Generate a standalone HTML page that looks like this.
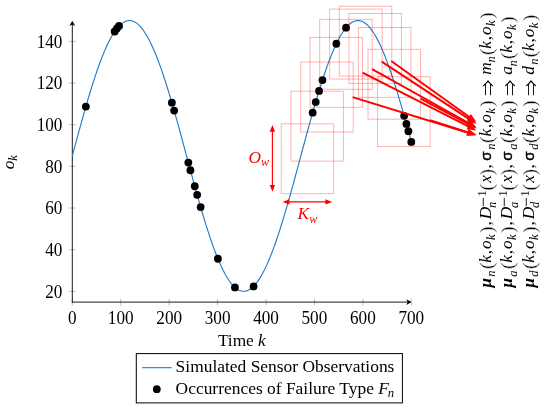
<!DOCTYPE html><html><head><meta charset="utf-8"><title>Simulated Sensor Observations</title>
<style>html,body{margin:0;padding:0;background:#fff;}svg{display:block}text{font-family:"Liberation Serif","DejaVu Serif",serif;fill:#000}.i{font-style:italic}.g{font-family:"Liberation Sans","DejaVu Sans",sans-serif;stroke:#000;stroke-width:0.45px}.gi{font-weight:bold;font-style:italic}.p{stroke:#fff;stroke-width:0.3px}.ar{font-family:"Noto Sans CJK SC","Noto Sans CJK JP","DejaVu Sans",sans-serif}</style></head><body>
<svg width="550" height="409" viewBox="0 0 550 409">
<rect width="550" height="409" fill="#fff"/>
<g stroke="#8c8c8c" stroke-width="0.55">
<line x1="72.30" y1="298.6" x2="72.30" y2="305.7"/>
<line x1="120.73" y1="298.6" x2="120.73" y2="305.7"/>
<line x1="169.16" y1="298.6" x2="169.16" y2="305.7"/>
<line x1="217.59" y1="298.6" x2="217.59" y2="305.7"/>
<line x1="266.02" y1="298.6" x2="266.02" y2="305.7"/>
<line x1="314.45" y1="298.6" x2="314.45" y2="305.7"/>
<line x1="362.88" y1="298.6" x2="362.88" y2="305.7"/>
<line x1="411.31" y1="298.6" x2="411.31" y2="305.7"/>
<line x1="68.7" y1="291.35" x2="75.9" y2="291.35"/>
<line x1="68.7" y1="249.68" x2="75.9" y2="249.68"/>
<line x1="68.7" y1="208.02" x2="75.9" y2="208.02"/>
<line x1="68.7" y1="166.35" x2="75.9" y2="166.35"/>
<line x1="68.7" y1="124.69" x2="75.9" y2="124.69"/>
<line x1="68.7" y1="83.02" x2="75.9" y2="83.02"/>
<line x1="68.7" y1="41.35" x2="75.9" y2="41.35"/>
</g>
<g stroke="#000" stroke-width="0.9" fill="none">
<line x1="72.3" y1="302.5" x2="72.3" y2="24"/>
<line x1="71.9" y1="302.1" x2="408" y2="302.1"/>
</g>
<path d="M72.3 20.7 L75.2 26 L72.3 24.6 L69.4 26 Z" fill="#000"/>
<path d="M411.6 302.1 L406.3 299.2 L407.7 302.1 L406.3 305 Z" fill="#000"/>
<polyline points="72.30,155.94 74.24,148.73 76.17,141.54 78.11,134.39 80.05,127.30 81.99,120.30 83.92,113.39 85.86,106.61 87.80,99.97 89.73,93.48 91.67,87.17 93.61,81.06 95.55,75.16 97.48,69.49 99.42,64.06 101.36,58.90 103.30,54.01 105.23,49.40 107.17,45.10 109.11,41.12 111.04,37.46 112.98,34.14 114.92,31.16 116.86,28.54 118.79,26.27 120.73,24.38 122.67,22.86 124.60,21.71 126.54,20.95 128.48,20.57 130.42,20.57 132.35,20.96 134.29,21.73 136.23,22.88 138.16,24.41 140.10,26.31 142.04,28.58 143.98,31.21 145.91,34.19 147.85,37.52 149.79,41.18 151.73,45.17 153.66,49.48 155.60,54.08 157.54,58.98 159.47,64.15 161.41,69.58 163.35,75.26 165.29,81.16 167.22,87.28 169.16,93.59 171.10,100.07 173.03,106.72 174.97,113.51 176.91,120.41 178.85,127.42 180.78,134.51 182.72,141.66 184.66,148.85 186.59,156.06 188.53,163.26 190.47,170.45 192.41,177.60 194.34,184.68 196.28,191.69 198.22,198.59 200.16,205.37 202.09,212.01 204.03,218.50 205.97,224.80 207.90,230.91 209.84,236.81 211.78,242.48 213.72,247.90 215.65,253.06 217.59,257.94 219.53,262.54 221.46,266.84 223.40,270.81 225.34,274.47 227.28,277.79 229.21,280.76 231.15,283.38 233.09,285.63 235.02,287.52 236.96,289.04 238.90,290.18 240.84,290.93 242.77,291.31 244.71,291.30 246.65,290.90 248.59,290.13 250.52,288.97 252.46,287.44 254.40,285.53 256.33,283.25 258.27,280.62 260.21,277.63 262.15,274.29 264.08,270.62 266.02,266.63 267.96,262.32 269.89,257.71 271.83,252.81 273.77,247.63 275.71,242.20 277.64,236.52 279.58,230.61 281.52,224.49 283.45,218.18 285.39,211.69 287.33,205.04 289.27,198.25 291.20,191.34 293.14,184.33 295.08,177.24 297.02,170.10 298.95,162.91 300.89,155.70 302.83,148.49 304.76,141.30 306.70,134.15 308.64,127.07 310.58,120.07 312.51,113.17 314.45,106.39 316.39,99.75 318.32,93.27 320.26,86.97 322.20,80.86 324.14,74.97 326.07,69.30 328.01,63.89 329.95,58.73 331.88,53.85 333.82,49.26 335.76,44.97 337.70,40.99 339.63,37.34 341.57,34.03 343.51,31.07 345.45,28.45 347.38,26.20 349.32,24.32 351.26,22.81 353.19,21.68 355.13,20.93 357.07,20.56 359.01,20.58 360.94,20.98 362.88,21.76 364.82,22.92 366.75,24.46 368.69,26.38 370.63,28.66 372.57,31.30 374.50,34.29 376.44,37.63 378.38,41.31 380.31,45.31 382.25,49.63 384.19,54.24 386.13,59.15 388.06,64.33 390.00,69.76 391.94,75.45 393.88,81.36 395.81,87.48 397.75,93.80 399.69,100.29 401.62,106.94 403.56,113.73 405.50,120.64 407.44,127.65 409.37,134.74 411.31,141.89" fill="none" stroke="#1f77c4" stroke-width="1.1"/>
<g fill="#000">
<circle cx="85.86" cy="106.61" r="3.9"/>
<circle cx="114.68" cy="31.51" r="3.9"/>
<circle cx="116.86" cy="28.54" r="3.9"/>
<circle cx="119.03" cy="26.02" r="3.9"/>
<circle cx="171.87" cy="102.72" r="3.9"/>
<circle cx="174.15" cy="110.61" r="3.9"/>
<circle cx="188.34" cy="162.54" r="3.9"/>
<circle cx="190.42" cy="170.27" r="3.9"/>
<circle cx="194.78" cy="186.27" r="3.9"/>
<circle cx="197.15" cy="194.81" r="3.9"/>
<circle cx="200.64" cy="207.05" r="3.9"/>
<circle cx="217.93" cy="258.77" r="3.9"/>
<circle cx="234.93" cy="287.44" r="3.9"/>
<circle cx="253.57" cy="286.38" r="3.9"/>
<circle cx="312.66" cy="112.65" r="3.9"/>
<circle cx="315.71" cy="102.05" r="3.9"/>
<circle cx="319.05" cy="90.88" r="3.9"/>
<circle cx="322.44" cy="80.11" r="3.9"/>
<circle cx="336.34" cy="43.74" r="3.9"/>
<circle cx="346.07" cy="27.68" r="3.9"/>
<circle cx="404.14" cy="115.80" r="3.9"/>
<circle cx="406.42" cy="123.96" r="3.9"/>
<circle cx="408.40" cy="131.19" r="3.9"/>
<circle cx="411.31" cy="141.89" r="3.9"/>
</g>
<g fill="none" stroke="#ff0000" stroke-opacity="0.3" stroke-width="1">
<rect x="281.2" y="123.8" width="52.5" height="69.9"/>
<rect x="290.9" y="91.2" width="52.5" height="69.9"/>
<rect x="300.7" y="62.1" width="52.5" height="69.9"/>
<rect x="310.0" y="37.4" width="52.5" height="69.9"/>
<rect x="319.7" y="19.4" width="52.5" height="69.9"/>
<rect x="329.6" y="9.1" width="52.5" height="69.9"/>
<rect x="339.3" y="6.2" width="52.5" height="69.9"/>
<rect x="348.9" y="13.5" width="52.5" height="69.9"/>
<rect x="358.4" y="27.5" width="52.5" height="69.9"/>
<rect x="368.0" y="49.3" width="52.5" height="69.9"/>
<rect x="377.6" y="76.7" width="52.5" height="69.9"/>
</g>
<g stroke="#ff0000" stroke-width="2.0" fill="#ff0000"><line x1="391.2" y1="61.0" x2="470.8" y2="118.0"/><path stroke="none" d="M476.5 122.1 L466.9 119.4 L470.8 113.9 Z"/><line x1="381.7" y1="61.6" x2="470.7" y2="120.1"/><path stroke="none" d="M476.5 123.9 L466.8 121.6 L470.5 115.9 Z"/><line x1="372.1" y1="69.2" x2="470.4" y2="124.0"/><path stroke="none" d="M476.5 127.4 L466.6 125.8 L469.9 119.9 Z"/><line x1="362.5" y1="72.6" x2="470.3" y2="127.3"/><path stroke="none" d="M476.5 130.5 L466.6 129.3 L469.7 123.2 Z"/><line x1="352.6" y1="97.1" x2="469.8" y2="133.2"/><path stroke="none" d="M476.5 135.3 L466.5 135.8 L468.5 129.3 Z"/><line x1="420.5" y1="98.7" x2="470.3" y2="125.0"/><path stroke="none" d="M476.5 128.3 L466.6 126.9 L469.8 120.9 Z"/><line x1="430.1" y1="120.3" x2="469.8" y2="133.0"/><path stroke="none" d="M476.5 135.1 L466.5 135.5 L468.6 129.0 Z"/></g>
<line x1="272.4" y1="129.9" x2="272.4" y2="186.7" stroke="#ff0000" stroke-width="1.15"/><path fill="#ff0000" d="M272.4 124.9 L269.7 131.7 L275.1 131.7 Z"/><path fill="#ff0000" d="M272.4 191.7 L269.7 184.9 L275.1 184.9 Z"/>
<line x1="287.6" y1="201.9" x2="327.2" y2="201.9" stroke="#ff0000" stroke-width="1.15"/><path fill="#ff0000" d="M282.6 201.9 L289.4 204.6 L289.4 199.2 Z"/><path fill="#ff0000" d="M332.2 201.9 L325.4 204.6 L325.4 199.2 Z"/>
<text transform="translate(248.6,162.9) scale(1,1)" font-size="17.3" class="i" style="fill:#ff0000">O<tspan font-size="12" dy="3.5">w</tspan></text>
<text transform="translate(297.6,219.2) scale(1,1)" font-size="17.3" class="i" style="fill:#ff0000">K<tspan font-size="12" dy="3.5">w</tspan></text>
<text transform="translate(72.3,323.8) scale(0.965,1)" font-size="17.8" text-anchor="middle">0</text>
<text transform="translate(120.7,323.8) scale(0.965,1)" font-size="17.8" text-anchor="middle">100</text>
<text transform="translate(169.2,323.8) scale(0.965,1)" font-size="17.8" text-anchor="middle">200</text>
<text transform="translate(217.6,323.8) scale(0.965,1)" font-size="17.8" text-anchor="middle">300</text>
<text transform="translate(266.0,323.8) scale(0.965,1)" font-size="17.8" text-anchor="middle">400</text>
<text transform="translate(314.4,323.8) scale(0.965,1)" font-size="17.8" text-anchor="middle">500</text>
<text transform="translate(362.9,323.8) scale(0.965,1)" font-size="17.8" text-anchor="middle">600</text>
<text transform="translate(411.3,323.8) scale(0.965,1)" font-size="17.8" text-anchor="middle">700</text>
<text transform="translate(62.4,297.5) scale(0.965,1)" font-size="17.8" text-anchor="end">20</text>
<text transform="translate(62.4,255.8) scale(0.965,1)" font-size="17.8" text-anchor="end">40</text>
<text transform="translate(62.4,214.1) scale(0.965,1)" font-size="17.8" text-anchor="end">60</text>
<text transform="translate(62.4,172.5) scale(0.965,1)" font-size="17.8" text-anchor="end">80</text>
<text transform="translate(62.4,130.8) scale(0.965,1)" font-size="17.8" text-anchor="end">100</text>
<text transform="translate(62.4,89.1) scale(0.965,1)" font-size="17.8" text-anchor="end">120</text>
<text transform="translate(62.4,47.5) scale(0.965,1)" font-size="17.8" text-anchor="end">140</text>
<text transform="translate(241.8,346.1) scale(1,1)" font-size="17.3" text-anchor="middle">Time <tspan class="i">k</tspan></text>
<text transform="translate(13.6,162.2) rotate(-90)" font-size="17.3" text-anchor="middle" class="i">o<tspan font-size="12.6" dy="3.8">k</tspan></text>
<rect x="136.3" y="353.6" width="266.1" height="49.3" fill="#fff" stroke="#000" stroke-width="1"/>
<line x1="142.2" y1="367.7" x2="171.6" y2="367.7" stroke="#1f77c4" stroke-width="1.1"/>
<circle cx="156.8" cy="389.2" r="3.9" fill="#000"/>
<text transform="translate(175.6,372.3) scale(1.008,1)" font-size="17.3">Simulated Sensor Observations</text>
<text transform="translate(175.6,394.0) scale(1.008,1)" font-size="17.3">Occurrences of Failure Type <tspan class="i">F</tspan><tspan class="i" font-size="12.6" dy="3.4" dx="-1.2">n</tspan></text>
<text transform="translate(490.7,288.0) rotate(-90)" font-size="17.3"><tspan x="0.6" y="0.0" font-size="17" class="gi">μ</tspan><tspan x="11.3" y="4.4" font-size="12.6" class="i">n</tspan><tspan x="19.0" y="1.9" font-size="19.8" class="p">(</tspan><tspan x="25.3" y="0.0" font-size="17.3" class="i">k</tspan><tspan x="33.8" y="0.0" font-size="17.3">,</tspan><tspan x="39.1" y="0.0" font-size="17.3" class="i">o</tspan><tspan x="48.1" y="4.2" font-size="12.6" class="i">k</tspan><tspan x="55.0" y="1.9" font-size="19.8" class="p">)</tspan><tspan x="62.4" y="0.0" font-size="17.3">,</tspan><tspan x="68.7" y="0.0" font-size="17.3" class="i">D</tspan><tspan x="80.8" y="-2.2" font-size="18">−</tspan><tspan x="91.6" y="-5.2" font-size="12.6">1</tspan><tspan x="80.0" y="5.6" font-size="12.6" class="i">n</tspan><tspan x="97.5" y="1.9" font-size="19.8" class="p">(</tspan><tspan x="105.3" y="0.0" font-size="17.3" class="i">x</tspan><tspan x="112.4" y="1.9" font-size="19.8" class="p">)</tspan><tspan x="119.5" y="0.0" font-size="17.3">,</tspan><tspan x="127.3" y="0.0" font-size="15" class="g">σ</tspan><tspan x="138.2" y="4.4" font-size="12.6" class="i">n</tspan><tspan x="145.1" y="1.9" font-size="19.8" class="p">(</tspan><tspan x="151.4" y="0.0" font-size="17.3" class="i">k</tspan><tspan x="159.9" y="0.0" font-size="17.3">,</tspan><tspan x="165.2" y="0.0" font-size="17.3" class="i">o</tspan><tspan x="174.2" y="4.2" font-size="12.6" class="i">k</tspan><tspan x="181.1" y="1.9" font-size="19.8" class="p">)</tspan><tspan x="213.2" y="0.0" font-size="17.3" class="i">m</tspan><tspan x="225.5" y="4.4" font-size="12.6" class="i">n</tspan><tspan x="232.9" y="1.9" font-size="19.8" class="p">(</tspan><tspan x="239.2" y="0.0" font-size="17.3" class="i">k</tspan><tspan x="247.7" y="0.0" font-size="17.3">,</tspan><tspan x="253.0" y="0.0" font-size="17.3" class="i">o</tspan><tspan x="262.0" y="4.2" font-size="12.6" class="i">k</tspan><tspan x="268.9" y="1.9" font-size="19.8" class="p">)</tspan></text><text transform="translate(490.7,288.0) rotate(-90) translate(191.9,2.3) scale(1.226,1)" font-size="13.3" class="ar">⇒</text>
<text transform="translate(512.2,288.0) rotate(-90)" font-size="17.3"><tspan x="0.6" y="0.0" font-size="17" class="gi">μ</tspan><tspan x="11.3" y="4.4" font-size="12.6" class="i">a</tspan><tspan x="19.0" y="1.9" font-size="19.8" class="p">(</tspan><tspan x="25.3" y="0.0" font-size="17.3" class="i">k</tspan><tspan x="33.8" y="0.0" font-size="17.3">,</tspan><tspan x="39.1" y="0.0" font-size="17.3" class="i">o</tspan><tspan x="48.1" y="4.2" font-size="12.6" class="i">k</tspan><tspan x="55.0" y="1.9" font-size="19.8" class="p">)</tspan><tspan x="62.4" y="0.0" font-size="17.3">,</tspan><tspan x="68.7" y="0.0" font-size="17.3" class="i">D</tspan><tspan x="80.8" y="-2.2" font-size="18">−</tspan><tspan x="91.6" y="-5.2" font-size="12.6">1</tspan><tspan x="80.0" y="5.6" font-size="12.6" class="i">a</tspan><tspan x="97.5" y="1.9" font-size="19.8" class="p">(</tspan><tspan x="105.3" y="0.0" font-size="17.3" class="i">x</tspan><tspan x="112.4" y="1.9" font-size="19.8" class="p">)</tspan><tspan x="119.5" y="0.0" font-size="17.3">,</tspan><tspan x="127.3" y="0.0" font-size="15" class="g">σ</tspan><tspan x="138.2" y="4.4" font-size="12.6" class="i">a</tspan><tspan x="145.1" y="1.9" font-size="19.8" class="p">(</tspan><tspan x="151.4" y="0.0" font-size="17.3" class="i">k</tspan><tspan x="159.9" y="0.0" font-size="17.3">,</tspan><tspan x="165.2" y="0.0" font-size="17.3" class="i">o</tspan><tspan x="174.2" y="4.2" font-size="12.6" class="i">k</tspan><tspan x="181.1" y="1.9" font-size="19.8" class="p">)</tspan><tspan x="213.2" y="0.0" font-size="17.3" class="i">a</tspan><tspan x="221.5" y="4.4" font-size="12.6" class="i">n</tspan><tspan x="228.9" y="1.9" font-size="19.8" class="p">(</tspan><tspan x="235.2" y="0.0" font-size="17.3" class="i">k</tspan><tspan x="243.7" y="0.0" font-size="17.3">,</tspan><tspan x="249.0" y="0.0" font-size="17.3" class="i">o</tspan><tspan x="258.0" y="4.2" font-size="12.6" class="i">k</tspan><tspan x="264.9" y="1.9" font-size="19.8" class="p">)</tspan></text><text transform="translate(512.2,288.0) rotate(-90) translate(191.9,2.3) scale(1.226,1)" font-size="13.3" class="ar">⇒</text>
<text transform="translate(533.7,288.0) rotate(-90)" font-size="17.3"><tspan x="0.6" y="0.0" font-size="17" class="gi">μ</tspan><tspan x="11.3" y="4.4" font-size="12.6" class="i">d</tspan><tspan x="19.0" y="1.9" font-size="19.8" class="p">(</tspan><tspan x="25.3" y="0.0" font-size="17.3" class="i">k</tspan><tspan x="33.8" y="0.0" font-size="17.3">,</tspan><tspan x="39.1" y="0.0" font-size="17.3" class="i">o</tspan><tspan x="48.1" y="4.2" font-size="12.6" class="i">k</tspan><tspan x="55.0" y="1.9" font-size="19.8" class="p">)</tspan><tspan x="62.4" y="0.0" font-size="17.3">,</tspan><tspan x="68.7" y="0.0" font-size="17.3" class="i">D</tspan><tspan x="80.8" y="-2.2" font-size="18">−</tspan><tspan x="91.6" y="-5.2" font-size="12.6">1</tspan><tspan x="80.0" y="5.6" font-size="12.6" class="i">d</tspan><tspan x="97.5" y="1.9" font-size="19.8" class="p">(</tspan><tspan x="105.3" y="0.0" font-size="17.3" class="i">x</tspan><tspan x="112.4" y="1.9" font-size="19.8" class="p">)</tspan><tspan x="119.5" y="0.0" font-size="17.3">,</tspan><tspan x="127.3" y="0.0" font-size="15" class="g">σ</tspan><tspan x="138.2" y="4.4" font-size="12.6" class="i">d</tspan><tspan x="145.1" y="1.9" font-size="19.8" class="p">(</tspan><tspan x="151.4" y="0.0" font-size="17.3" class="i">k</tspan><tspan x="159.9" y="0.0" font-size="17.3">,</tspan><tspan x="165.2" y="0.0" font-size="17.3" class="i">o</tspan><tspan x="174.2" y="4.2" font-size="12.6" class="i">k</tspan><tspan x="181.1" y="1.9" font-size="19.8" class="p">)</tspan><tspan x="213.2" y="0.0" font-size="17.3" class="i">d</tspan><tspan x="223.3" y="4.4" font-size="12.6" class="i">n</tspan><tspan x="230.7" y="1.9" font-size="19.8" class="p">(</tspan><tspan x="237.0" y="0.0" font-size="17.3" class="i">k</tspan><tspan x="245.5" y="0.0" font-size="17.3">,</tspan><tspan x="250.8" y="0.0" font-size="17.3" class="i">o</tspan><tspan x="259.8" y="4.2" font-size="12.6" class="i">k</tspan><tspan x="266.7" y="1.9" font-size="19.8" class="p">)</tspan></text><text transform="translate(533.7,288.0) rotate(-90) translate(191.9,2.3) scale(1.226,1)" font-size="13.3" class="ar">⇒</text>
</svg></body></html>
